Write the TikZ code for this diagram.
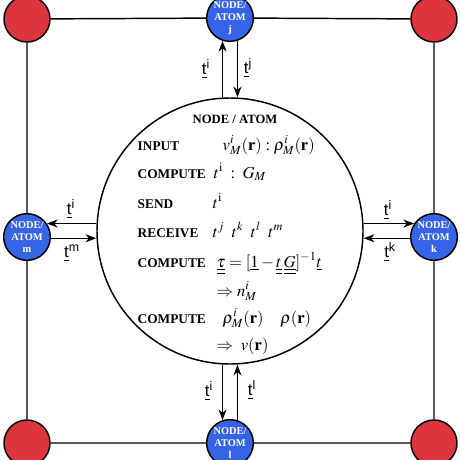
\documentclass[tikz,border=0pt]{standalone}
\usepackage{mathptmx}
\usepackage{fontspec}
\setmainfont{Liberation Serif}
\setsansfont{Liberation Sans}
\usetikzlibrary{arrows.meta}
\definecolor{atomblue}{RGB}{55,100,230}
\definecolor{cornerred}{RGB}{222,52,62}
\newcommand{\uu}[1]{\underline{\underline{#1}}}
\tikzset{every picture/.style={line width=1.1pt}}
\begin{document}
\begin{tikzpicture}[x=0.75pt,y=0.75pt,yscale=-1,xscale=1,
  corner/.style={circle,draw,fill=cornerred,minimum size=34.5pt,inner sep=0pt},
  atomnode/.style={circle,draw,fill=atomblue,minimum size=35pt,inner sep=0pt,
    text=white,align=center,font=\bfseries\fontsize{7.8}{8.8}\selectfont},
  arr/.style={-{Stealth[length=8pt,width=6pt,inset=2.5pt]}},
  rowlabel/.style={anchor=base west,inner sep=0pt,font=\bfseries\fontsize{10}{12}\selectfont},
  rowmath/.style={anchor=base west,inner sep=0pt,font=\fontsize{12.5}{14}\selectfont},
  tlabel/.style={inner sep=0pt,font=\sffamily\fontsize{12.5}{14}\selectfont}]
\useasboundingbox (0,0) rectangle (460,460);

% big node / atom
\node [circle,draw,minimum size=199.5pt,inner sep=0pt] (atom) at (230,231) {};

% corners and neighbours
\node [corner] (c1) at (27,19) {};
\node [corner] (c2) at (434,19) {};
\node [corner] (c3) at (27,443) {};
\node [corner] (c4) at (434,443) {};
\node [atomnode] (j) at (230,18) {NODE/\\ATOM\\j};
\node [atomnode] (k) at (434,237) {NODE/\\ATOM\\k};
\node [atomnode] (l) at (230,443) {NODE/\\ATOM\\l};
\node [atomnode] (m) at (27,237) {NODE/\\ATOM\\m};

\draw (c1) -- (j) -- (c2) -- (k) -- (c4) -- (l) -- (c3) -- (m) -- (c1);

% messages
\draw [arr] (j.252 |- atom.north) -- (j.252);
\draw [arr] (j.288) -- (j.288 |- atom.north);
\draw [arr] (l.108 |- atom.south) -- (l.108);
\draw [arr] (l.72) -- (l.72 |- atom.south);
\draw [arr] (m.34 -| atom.west) -- (m.34);
\draw [arr] (m.357) -- (m.357 -| atom.west);
\draw [arr] (k.146 -| atom.east) -- (k.146);
\draw [arr] (k.183) -- (k.183 -| atom.east);

\node [tlabel] (tj1) at (206,69) {\underline{t}\textsuperscript{i}};
\node [tlabel] (tj2) at (248,68) {\underline{t}\textsuperscript{j}};
\node [tlabel] (tm1) at (71,209) {\underline{t}\textsuperscript{i}};
\node [tlabel] (tm2) at (72,253) {\underline{t}\textsuperscript{m}};
\node [tlabel] (tk1) at (388,210) {\underline{t}\textsuperscript{i}};
\node [tlabel] (tk2) at (390,252) {\underline{t}\textsuperscript{k}};
\node [tlabel] (tl1) at (209,391) {\underline{t}\textsuperscript{i}};
\node [tlabel] (tl2) at (252,390) {\underline{t}\textsuperscript{l}};

% algorithm inside the atom
\node [anchor=base,inner sep=0pt,font=\bfseries\fontsize{9.5}{11}\selectfont] (title) at (235,123) {NODE / ATOM};
\node [rowlabel] (r1) at (137,150) {INPUT};
\node [rowlabel] (r2) at (137,178) {COMPUTE};
\node [rowlabel] (r3) at (137,208) {SEND};
\node [rowlabel] (r4) at (137,237) {RECEIVE};
\node [rowlabel] (r5) at (137,267) {COMPUTE};
\node [rowlabel] (r7) at (137,323) {COMPUTE};
\node [rowmath] (m1) at (222,150) {$v^i_M(\mathbf{r}) : \rho^i_M(\mathbf{r})$};
\node [rowmath] (m2) at (213,178) {$t^{\mathrm{i}} \;:\; G_M$};
\node [rowmath] (m3) at (212,208) {$t^{\mathrm{i}}$};
\node [rowmath] (m4) at (212,237) {$t^j\;\; t^k\;\; t^l\;\; t^m$};
\node [rowmath] (m5) at (216,267) {$\underline{\underline{\tau}} = [\underline{1} - \uu{t}\,\uu{G}]^{-1}\underline{t}$};
\node [rowmath] (m6) at (216,296) {$\Rightarrow n^i_M$};
\node [rowmath] (m7) at (222,323) {$\rho^i_M(\mathbf{r}) \quad \rho(\mathbf{r})$};
\node [rowmath] (m8) at (216,350) {$\Rightarrow\; v(\mathbf{r})$};
\end{tikzpicture}
\end{document}
